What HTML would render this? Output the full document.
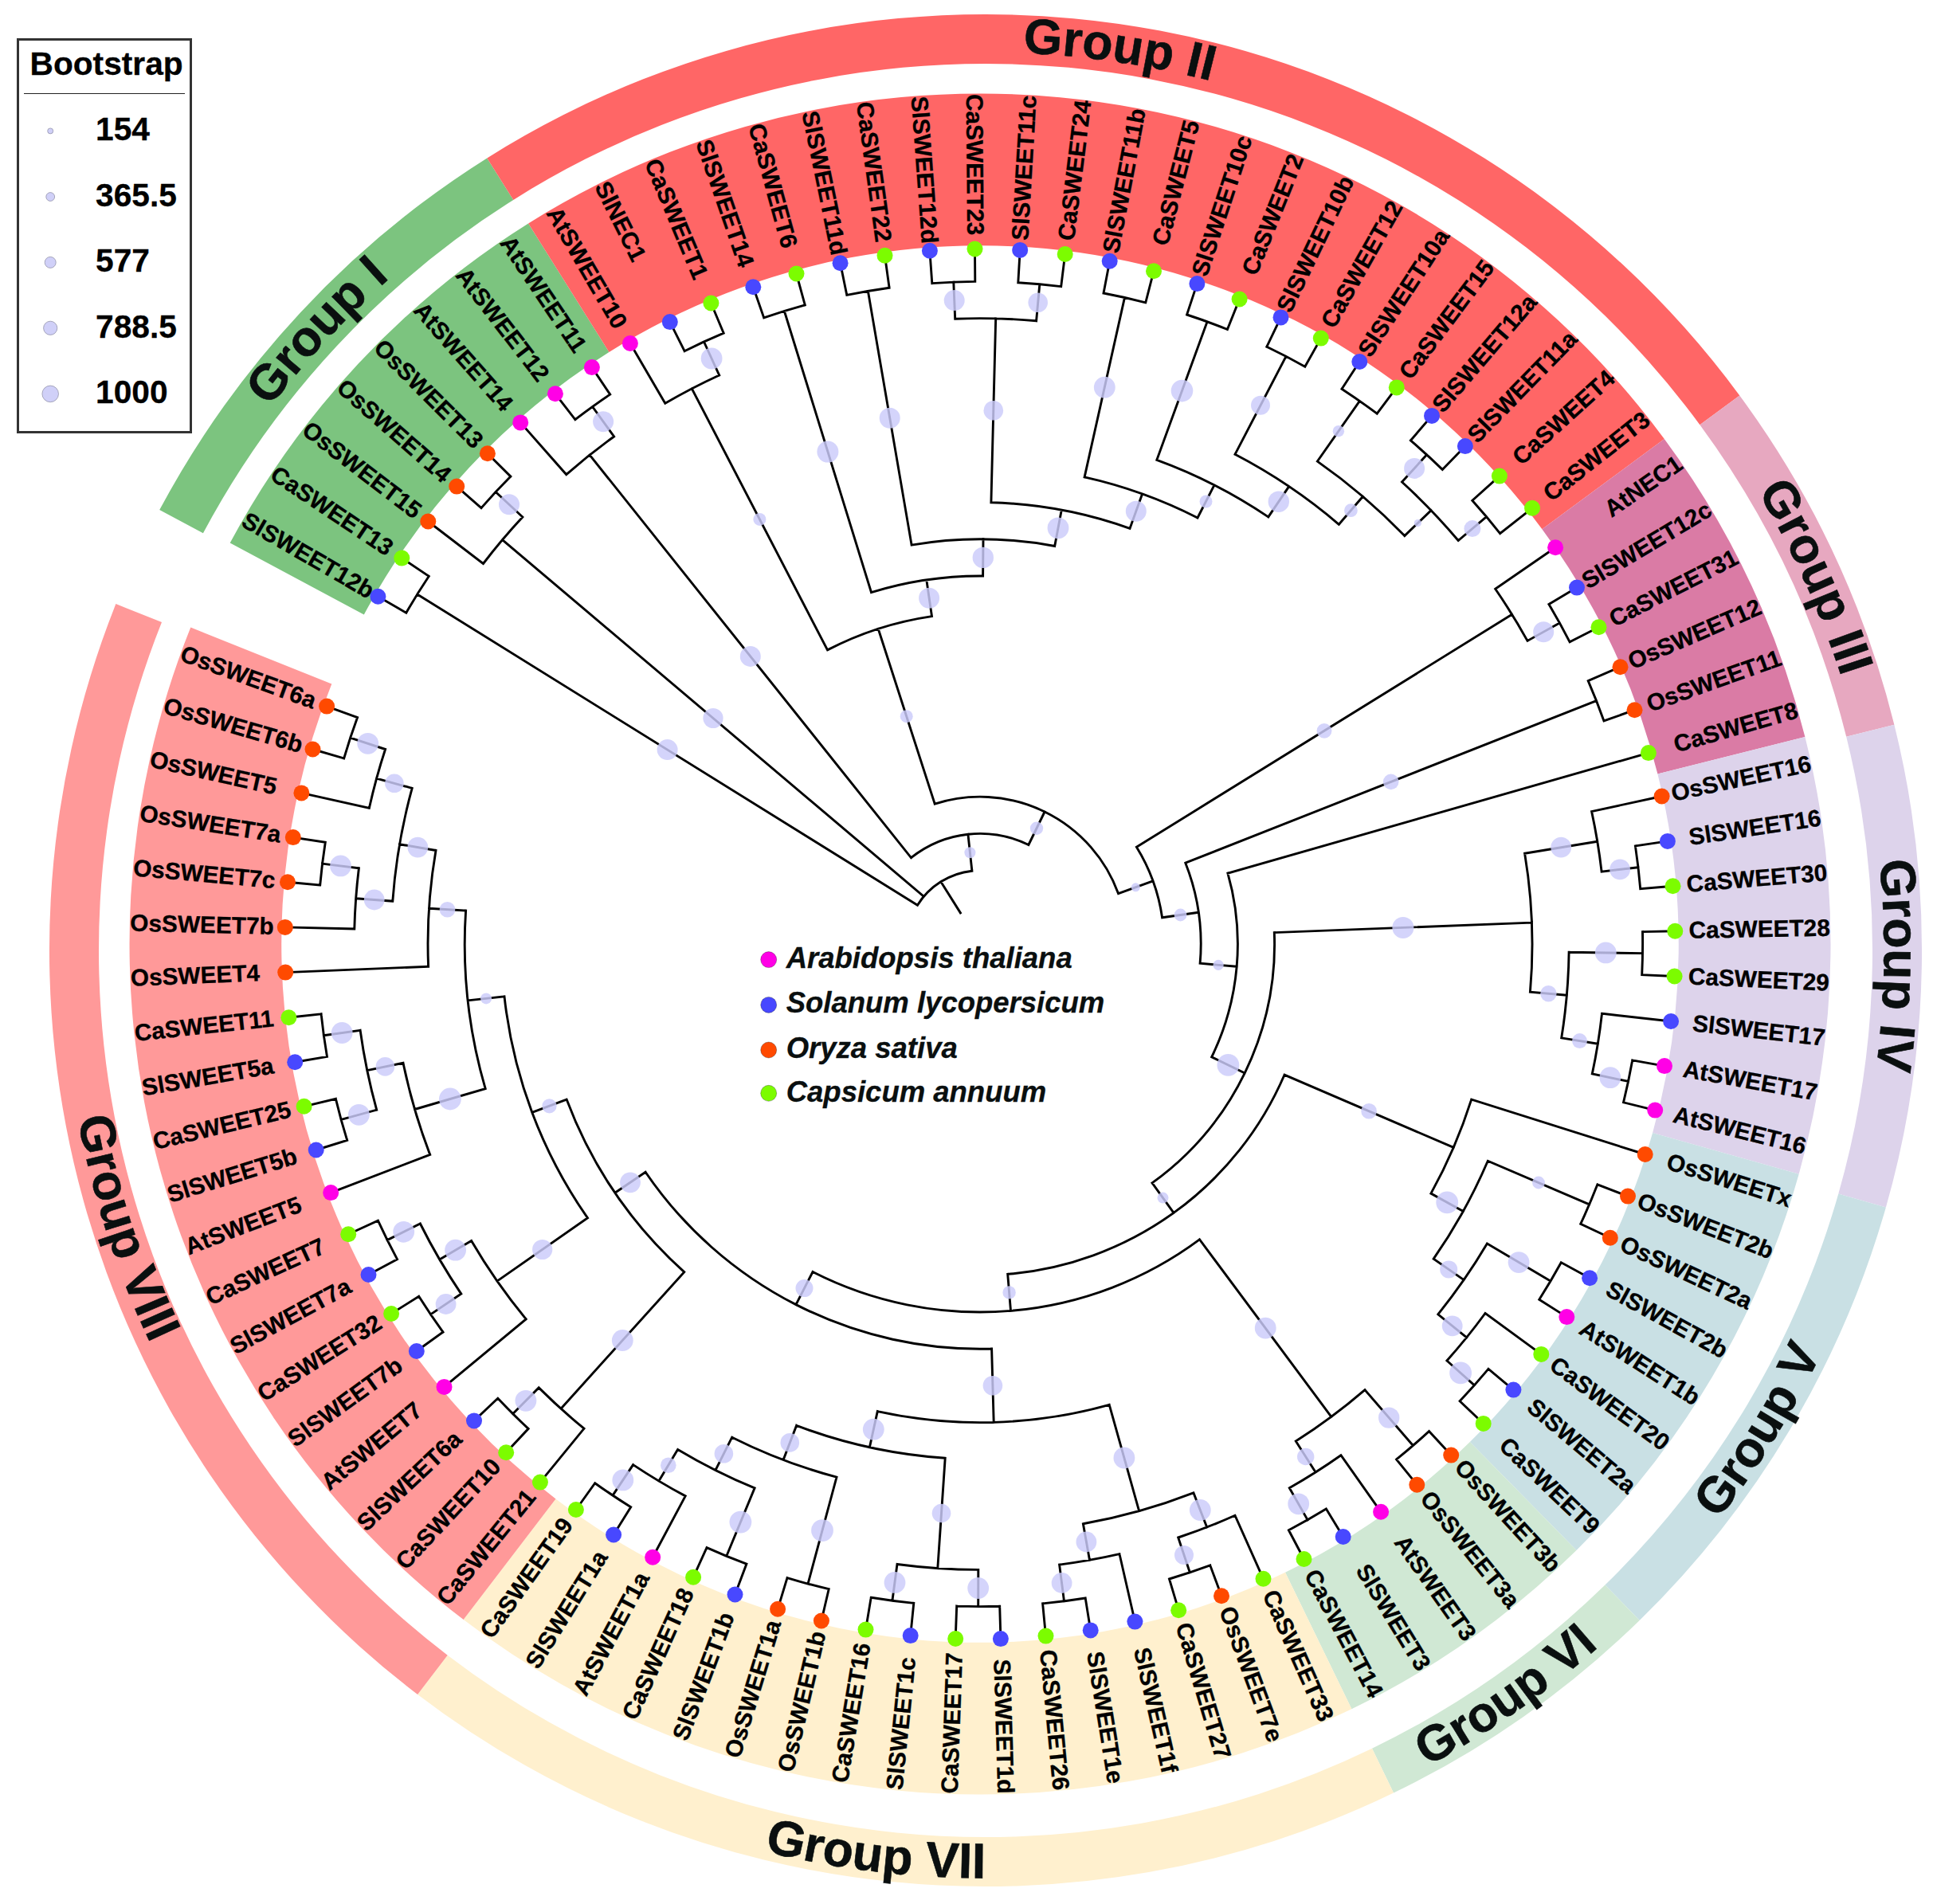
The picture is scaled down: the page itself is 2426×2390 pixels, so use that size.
<!DOCTYPE html>
<html lang="en"><head><meta charset="utf-8"><title>SWEET phylogenetic tree</title>
<style>html,body{margin:0;padding:0;background:#fff}svg{display:block}text{font-family:"Liberation Sans",sans-serif;font-weight:bold}.lf{font-size:29.8px;fill:#000;stroke:#000;stroke-width:.3px}.gl{font-size:62.4px;fill:#0a0f0f;text-anchor:middle;stroke:#0a0f0f;stroke-width:.6px}.sp{font-size:36.5px;font-style:italic;fill:#0a0f0f;stroke:#0a0f0f;stroke-width:.3px}.lg{font-size:40.7px;fill:#000;stroke:#000;stroke-width:.3px}</style></head><body>
<svg width="2426" height="2390" viewBox="0 0 2426 2390">
<rect width="2426" height="2390" fill="#fff"/>
<g id="bands">
<path d="M288.7 681.6A1067.5 1067.5 0 0 1 663.1 280.4L764.4 442A876.8 876.8 0 0 0 456.8 771.5Z" fill="#7cc47f"/>
<path d="M200.2 640.1A1175 1175 0 0 1 611.3 198.4L644.3 250.9A1113 1113 0 0 0 254.9 669.3Z" fill="#7cc47f"/>
<path d="M663.1 280.4A1067.5 1067.5 0 0 1 2088.8 551L1935.4 664.2A876.8 876.8 0 0 0 764.4 442Z" fill="#ff6666"/>
<path d="M611.3 198.4A1175 1175 0 0 1 2183.3 496.5L2133.4 533.2A1113 1113 0 0 0 644.3 250.9Z" fill="#ff6666"/>
<path d="M2088.8 551A1067.5 1067.5 0 0 1 2265.4 925L2080.4 971.5A876.8 876.8 0 0 0 1935.4 664.2Z" fill="#da7ba5"/>
<path d="M2183.3 496.5A1175 1175 0 0 1 2377.4 909.8L2317.2 924.8A1113 1113 0 0 0 2133.4 533.2Z" fill="#e7a8c0"/>
<path d="M2265.4 925A1067.5 1067.5 0 0 1 2257.7 1473.7L2074.1 1422.1A876.8 876.8 0 0 0 2080.4 971.5Z" fill="#ddd3eb"/>
<path d="M2377.4 909.8A1175 1175 0 0 1 2366.9 1515.5L2307.3 1498.5A1113 1113 0 0 0 2317.2 924.8Z" fill="#ddd3eb"/>
<path d="M2257.7 1473.7A1067.5 1067.5 0 0 1 1978.5 1946.1L1844.8 1810.1A876.8 876.8 0 0 0 2074.1 1422.1Z" fill="#c9e0e4"/>
<path d="M2366.9 1515.5A1175 1175 0 0 1 2057.7 2033.9L2014.4 1989.5A1113 1113 0 0 0 2307.3 1498.5Z" fill="#c9e0e4"/>
<path d="M1978.5 1946.1A1067.5 1067.5 0 0 1 1696.4 2145.2L1613 1973.7A876.8 876.8 0 0 0 1844.8 1810.1Z" fill="#d0e8d4"/>
<path d="M2057.7 2033.9A1175 1175 0 0 1 1749 2250.6L1722 2194.8A1113 1113 0 0 0 2014.4 1989.5Z" fill="#d0e8d4"/>
<path d="M1696.4 2145.2A1067.5 1067.5 0 0 1 581.7 2033.1L697.5 1881.6A876.8 876.8 0 0 0 1613 1973.7Z" fill="#fff0ce"/>
<path d="M1749 2250.6A1175 1175 0 0 1 524.1 2127L561.7 2077.7A1113 1113 0 0 0 1722 2194.8Z" fill="#fff0ce"/>
<path d="M581.7 2033.1A1067.5 1067.5 0 0 1 239.3 787.5L416.3 858.5A876.8 876.8 0 0 0 697.5 1881.6Z" fill="#ff9999"/>
<path d="M524.1 2127A1175 1175 0 0 1 145.4 758.1L203 781.1A1113 1113 0 0 0 561.7 2077.7Z" fill="#ff9999"/>
</g>
<path id="tree" d="M1151.5 1136.2A92.4 92.4 0 0 1 1219.9 1093.2M1151.5 1136.2L523.7 746M509.8 769.2A831.6 831.6 0 0 1 538.3 723.3M509.8 769.2L474.4 748.7M538.3 723.3L504.3 700.6M1159.5 1125.3L630.5 677.6M606.5 707.5A785.4 785.4 0 0 1 655.9 649M606.5 707.5L537.3 654.5M655.9 649L622.1 617.5M604 637.6A831.6 831.6 0 0 1 640.9 598.1M604 637.6L573.2 610.6M640.9 598.1L611.9 569.2M1219.9 1093.2L1214.9 1047.2M1143.5 1076.7A138.6 138.6 0 0 1 1290.9 1060.5M1143.5 1076.7L740.1 571.1M710.8 595.7A785.4 785.4 0 0 1 770.6 548M710.8 595.7L653.2 530.4M770.6 548L743.6 510.5M721.9 526.7A831.6 831.6 0 0 1 765.7 495.1M721.9 526.7L696.9 494.3M765.7 495.1L742.9 461.1M1290.9 1060.5L1311.1 1019M1173.2 1009.1A184.8 184.8 0 0 1 1403.6 1121.7M1173.2 1009.1L1102.2 789.3M1038.5 815.9A415.8 415.8 0 0 1 1169.5 773.6M1038.5 815.9L868.3 487.8M834.8 506.3A785.4 785.4 0 0 1 902.7 471M834.8 506.3L790.9 431M902.7 471L883.5 429M859.1 440.7A831.6 831.6 0 0 1 908.2 418.2M859.1 440.7L840.8 404.1M908.2 418.2L892.4 380.5M1169.5 773.6L1162.8 727.9M1093.5 743.6A462 462 0 0 1 1233.6 723M1093.5 743.6L984.4 390.5M958.7 398.9A831.6 831.6 0 0 1 1010.3 382.9M958.7 398.9L945.3 360.2M1010.3 382.9L999.5 343.5M1233.6 723L1234 676.8M1144.1 684.1A508.2 508.2 0 0 1 1323.7 685.5M1144.1 684.1L1089.4 365.4M1062.8 370.4A831.6 831.6 0 0 1 1116.1 361.2M1062.8 370.4L1054.6 330.3M1116.1 361.2L1110.5 320.7M1323.7 685.5L1332.3 640.1M1243.9 630.8A554.4 554.4 0 0 1 1418 663.4M1243.9 630.8L1249.7 399.8M1198.7 400.2A785.4 785.4 0 0 1 1300.6 402.8M1198.7 400.2L1196.8 354.1M1169.8 355.6A831.6 831.6 0 0 1 1223.8 353.4M1169.8 355.6L1166.9 314.8M1223.8 353.4L1223.5 312.5M1300.6 402.8L1304.8 356.8M1277.8 354.8A831.6 831.6 0 0 1 1331.7 359.6M1277.8 354.8L1280.2 313.9M1331.7 359.6L1336.7 319M1418 663.4L1433.6 620M1361.1 598.9A600.6 600.6 0 0 1 1503 650M1361.1 598.9L1411.5 373.4M1385 368A831.6 831.6 0 0 1 1437.8 379.8M1385 368L1392.7 327.8M1437.8 379.8L1448 340.2M1503 650L1524 608.9M1451.8 577.4A646.8 646.8 0 0 1 1591.8 648.9M1451.8 577.4L1515.1 403.8M1489.6 395A831.6 831.6 0 0 1 1540.4 413.5M1489.6 395L1502.4 356.1M1540.4 413.5L1555.6 375.5M1591.8 648.9L1617.7 610.6M1550 570.3A693 693 0 0 1 1680.4 658.3M1550 570.3L1614 447.4M1589.8 435.3A831.6 831.6 0 0 1 1637.8 460.2M1589.8 435.3L1607.5 398.4M1637.8 460.2L1657.8 424.6M1680.4 658.3L1710.4 623.2M1653.4 579.1A739.2 739.2 0 0 1 1762.8 672.6M1653.4 579.1L1706.4 503.4M1684 488.2A831.6 831.6 0 0 1 1728.2 519.2M1684 488.2L1706.3 454M1728.2 519.2L1752.8 486.4M1762.8 672.6L1796.1 640.6M1759.5 605A785.4 785.4 0 0 1 1830.2 678.5M1759.5 605L1790.7 570.8M1770.4 552.9A831.6 831.6 0 0 1 1810.3 589.4M1770.4 552.9L1797 521.9M1810.3 589.4L1838.9 560.1M1830.2 678.5L1865.6 648.7M1847.8 628.3A831.6 831.6 0 0 1 1882.6 669.6M1847.8 628.3L1881.9 597.6M1882.6 669.6L1923 637.8M1403.6 1121.7L1447 1105.9M1426.4 1063.3A231 231 0 0 1 1458.6 1151.8M1426.4 1063.3L1897.6 771.3M1876.7 739.3A785.4 785.4 0 0 1 1917 804.4M1876.7 739.3L1952.1 687.3M1917 804.4L1957.4 782M1943.9 758.5A831.6 831.6 0 0 1 1970.1 805.8M1943.9 758.5L1979 737.6M1970.1 805.8L2006.5 787.2M1458.6 1151.8L1504.3 1145.2M1487.8 1083.2A277.2 277.2 0 0 1 1506.1 1209.3M1487.8 1083.2L2003.5 879.6M1993.2 854.7A831.6 831.6 0 0 1 2013 904.9M1993.2 854.7L2033.5 837.2M2013 904.9L2051.5 891.2M1506.1 1209.3L1552.2 1213.3M1540.9 1096.1A323.4 323.4 0 0 1 1520.7 1326.8M1540.9 1096.1L2068.9 945.1M1520.7 1326.8L1562.2 1347M1599.3 1170.6A369.6 369.6 0 0 1 1446 1484.9M1599.3 1170.6L1922.5 1158.1M1913.6 1071.3A693 693 0 0 1 1920.4 1245.2M1913.6 1071.3L2004.8 1056.2M1997.6 1018.6A785.4 785.4 0 0 1 2010.1 1094.1M1997.6 1018.6L2085.6 999.5M2010.1 1094.1L2056 1088.7M2052.4 1061.9A831.6 831.6 0 0 1 2058.7 1115.6M2052.4 1061.9L2092.9 1055.9M2058.7 1115.6L2099.5 1112.2M1920.4 1245.2L1966.4 1249.3M1969.1 1195.3A739.2 739.2 0 0 1 1959.7 1302.9M1969.1 1195.3L2061.5 1196.6M2061.5 1169.6A831.6 831.6 0 0 1 2060.7 1223.6M2061.5 1169.6L2102.3 1168.8M2060.7 1223.6L2101.6 1225.5M1959.7 1302.9L2005.4 1310.2M2010.5 1272.3A785.4 785.4 0 0 1 1998.3 1347.9M2010.5 1272.3L2097.1 1282M1998.3 1347.9L2043.5 1357.4M2048.7 1330.9A831.6 831.6 0 0 1 2037.5 1383.8M2048.7 1330.9L2089 1338.1M2037.5 1383.8L2077.2 1393.6M1446 1484.9L1473 1522.4M1612 1349.2A415.8 415.8 0 0 1 1264.7 1599.4M1612 1349.2L1824.3 1440.4M1846.7 1380.1A646.8 646.8 0 0 1 1795.9 1498.1M1846.7 1380.1L2064.7 1449M1795.9 1498.1L1836.4 1520.5M1867.3 1457.3A693 693 0 0 1 1799.2 1580.2M1867.3 1457.3L1994.7 1511.8M2004.9 1486.8A831.6 831.6 0 0 1 1983.7 1536.4M2004.9 1486.8L2043 1501.6M1983.7 1536.4L2020.8 1553.7M1799.2 1580.2L1837.2 1606.6M1866.4 1561.1A739.2 739.2 0 0 1 1804.8 1649.8M1866.4 1561.1L1945.9 1608.1M1959.3 1584.7A831.6 831.6 0 0 1 1931.8 1631.2M1959.3 1584.7L1995.1 1604.3M1931.8 1631.2L1966.3 1653.1M1804.8 1649.8L1840.7 1678.9M1864 1648.5A785.4 785.4 0 0 1 1815.9 1708M1864 1648.5L1934.3 1699.9M1815.9 1708L1850.4 1738.8M1868 1718.4A831.6 831.6 0 0 1 1832.1 1758.7M1868 1718.4L1899.4 1744.6M1832.1 1758.7L1861.7 1786.9M1264.7 1599.4L1268.5 1645.4M1505.5 1555.9A462 462 0 0 1 1020 1596.5M1505.5 1555.9L1670.8 1778.4M1713 1744.6A739.2 739.2 0 0 1 1626.3 1809M1713 1744.6L1773.4 1814.5M1793.5 1796.6A831.6 831.6 0 0 1 1752.6 1831.9M1793.5 1796.6L1821.2 1826.6M1752.6 1831.9L1778.3 1863.7M1626.3 1809L1651.1 1848M1682.9 1826.7A785.4 785.4 0 0 1 1618.3 1867.7M1682.9 1826.7L1733.1 1897.8M1618.3 1867.7L1641.1 1907.9M1664.4 1894.1A831.6 831.6 0 0 1 1617.4 1920.8M1664.4 1894.1L1685.7 1929M1617.4 1920.8L1636.5 1957M1020 1596.5L999 1637.7M1244.6 1693A508.2 508.2 0 0 1 810.1 1471.2M1244.6 1693L1247.2 1785.4M1392.2 1763.3A600.6 600.6 0 0 1 1101.3 1771.6M1392.2 1763.3L1429.6 1896.7M1497.9 1873.9A739.2 739.2 0 0 1 1359.4 1912.8M1497.9 1873.9L1514.7 1917M1550 1902.3A785.4 785.4 0 0 1 1478.7 1930M1550 1902.3L1585.5 1981.8M1478.7 1930L1493.3 1973.8M1518.8 1964.9A831.6 831.6 0 0 1 1467.5 1982M1518.8 1964.9L1533 2003.2M1467.5 1982L1479.2 2021.2M1359.4 1912.8L1367.5 1958.3M1405 1950.7A785.4 785.4 0 0 1 1329.6 1964.1M1405 1950.7L1424.4 2035.6M1329.6 1964.1L1335.5 2009.9M1362.2 2006A831.6 831.6 0 0 1 1308.6 2012.9M1362.2 2006L1368.7 2046.4M1308.6 2012.9L1312.5 2053.6M1101.3 1771.6L1091.4 1816.8M1186.2 1830.3A646.8 646.8 0 0 1 999.6 1789.4M1186.2 1830.3L1176.8 1968.6M1227.8 1970.4A785.4 785.4 0 0 1 1126 1963.5M1227.8 1970.4L1227.7 2016.6M1254.7 2016.2A831.6 831.6 0 0 1 1200.7 2016.1M1254.7 2016.2L1255.9 2057.1M1200.7 2016.1L1199.2 2057M1126 1963.5L1119.9 2009.3M1146.8 2012.4A831.6 831.6 0 0 1 1093.2 2005.3M1146.8 2012.4L1142.7 2053.1M1093.2 2005.3L1086.5 2045.6M999.6 1789.4L983.1 1832.5M1050 1854.2A693 693 0 0 1 918.7 1804.2M1050 1854.2L1014 1988.1M1040.2 1994.7A831.6 831.6 0 0 1 988 1980.6M1040.2 1994.7L1030.9 2034.5M988 1980.6L976.1 2019.8M918.7 1804.2L898 1845.4M947.1 1867.9A739.2 739.2 0 0 1 850.6 1819.4M947.1 1867.9L911.8 1953.3M936.9 1963.2A831.6 831.6 0 0 1 887 1942.6M936.9 1963.2L922.5 2001.5M887 1942.6L870.1 1979.8M850.6 1819.4L826.9 1859.1M860.2 1877.9A785.4 785.4 0 0 1 794.6 1838.6M860.2 1877.9L819.2 1954.8M794.6 1838.6L769 1877.1M791.7 1891.7A831.6 831.6 0 0 1 746.7 1861.7M791.7 1891.7L770.1 1926.5M746.7 1861.7L722.9 1895M810.1 1471.2L771.9 1497.3M858.7 1596.7A554.4 554.4 0 0 1 711.1 1380.1M858.7 1596.7L704 1768.2M733 1793.2A785.4 785.4 0 0 1 676.2 1741.9M733 1793.2L677.9 1860.6M676.2 1741.9L643.6 1774.7M663.1 1793.4A831.6 831.6 0 0 1 624.8 1755.3M663.1 1793.4L635.2 1823.3M624.8 1755.3L595 1783.4M711.1 1380.1L667.8 1396.4M737.5 1528.8A600.6 600.6 0 0 1 633 1250.9M737.5 1528.8L623.9 1608.1M660.2 1655.9A739.2 739.2 0 0 1 591.6 1557.6M660.2 1655.9L557.5 1740.9M591.6 1557.6L551.7 1580.9M578.8 1624.1A785.4 785.4 0 0 1 527.4 1536M578.8 1624.1L540.5 1649.9M556 1672.1A831.6 831.6 0 0 1 525.7 1627.3M556 1672.1L522.8 1696M525.7 1627.3L491.1 1649M527.4 1536L486 1556.6M498.5 1580.6A831.6 831.6 0 0 1 474.4 1532.2M498.5 1580.6L462.5 1600M474.4 1532.2L437.2 1549.3M633 1250.9L587.1 1255.9M609.2 1366.6A646.8 646.8 0 0 1 584.6 1143.1M609.2 1366.6L520.5 1392.5M539.7 1449.4A739.2 739.2 0 0 1 506 1334.3M539.7 1449.4L415.2 1497.1M506 1334.3L460.8 1343.6M472.7 1393.2A785.4 785.4 0 0 1 452.1 1293.3M472.7 1393.2L428.2 1405.4M435.7 1431.4A831.6 831.6 0 0 1 421.4 1379.3M435.7 1431.4L396.7 1443.5M421.4 1379.3L381.6 1388.8M452.1 1293.3L406.3 1299.7M410.5 1326.4A831.6 831.6 0 0 1 403.1 1272.8M410.5 1326.4L370.2 1333.3M403.1 1272.8L362.4 1277.2M584.6 1143.1L538.5 1140.2M537.6 1213.3A693 693 0 0 1 547 1067.5M537.6 1213.3L358.2 1220.6M547 1067.5L501.5 1059.7M492.8 1131.2A739.2 739.2 0 0 1 517.2 989.4M492.8 1131.2L446.7 1127.8M444.8 1166A785.4 785.4 0 0 1 450.4 1089.7M444.8 1166L357.8 1163.9M450.4 1089.7L404.5 1084.1M401.7 1111A831.6 831.6 0 0 1 408.3 1057.3M401.7 1111L361 1107.3M408.3 1057.3L367.8 1051.1M517.2 989.4L472.6 977.1M463.4 1014.3A785.4 785.4 0 0 1 483.6 940.5M463.4 1014.3L378.4 995.4M483.6 940.5L439.7 926.1M431.7 951.9A831.6 831.6 0 0 1 448.6 900.6M431.7 951.9L392.5 940.5M448.6 900.6L410.1 886.6M1180.8 1106.8L1205.4 1145.9" fill="none" stroke="#000" stroke-width="2.9" stroke-linejoin="miter" stroke-linecap="square"/>
<g id="boot" fill="#cbcbfa" fill-opacity="0.83">
<circle cx="837.6" cy="941.1" r="13"/>
<circle cx="895" cy="901.5" r="12.6"/>
<circle cx="639" cy="633.3" r="13"/>
<circle cx="1217.4" cy="1070.2" r="7"/>
<circle cx="941.8" cy="823.9" r="13"/>
<circle cx="757.1" cy="529.2" r="13"/>
<circle cx="1301" cy="1039.7" r="8.2"/>
<circle cx="1137.7" cy="899.2" r="8"/>
<circle cx="953.4" cy="651.9" r="8"/>
<circle cx="893.1" cy="450" r="13.4"/>
<circle cx="1166.1" cy="750.8" r="13"/>
<circle cx="1038.9" cy="567.1" r="13.5"/>
<circle cx="1233.8" cy="699.9" r="13.2"/>
<circle cx="1116.7" cy="524.7" r="13"/>
<circle cx="1328" cy="662.8" r="13.4"/>
<circle cx="1246.8" cy="515.3" r="12.3"/>
<circle cx="1197.7" cy="377.1" r="13"/>
<circle cx="1302.7" cy="379.8" r="12.3"/>
<circle cx="1425.8" cy="641.7" r="13"/>
<circle cx="1386.3" cy="486.2" r="13.4"/>
<circle cx="1513.5" cy="629.5" r="8"/>
<circle cx="1483.5" cy="490.6" r="13.8"/>
<circle cx="1604.8" cy="629.7" r="13.2"/>
<circle cx="1582" cy="508.8" r="12"/>
<circle cx="1695.4" cy="640.7" r="8.4"/>
<circle cx="1679.9" cy="541.2" r="7.2"/>
<circle cx="1779.4" cy="656.6" r="4.6"/>
<circle cx="1775.1" cy="587.9" r="13"/>
<circle cx="1847.9" cy="663.6" r="10.5"/>
<circle cx="1425.3" cy="1113.8" r="5.5"/>
<circle cx="1662" cy="917.3" r="9.4"/>
<circle cx="1937.2" cy="793.2" r="13"/>
<circle cx="1481.5" cy="1148.5" r="7.9"/>
<circle cx="1745.7" cy="981.4" r="9.8"/>
<circle cx="1529.1" cy="1211.3" r="6.6"/>
<circle cx="1541.4" cy="1336.9" r="13.9"/>
<circle cx="1760.9" cy="1164.4" r="13.5"/>
<circle cx="1959.2" cy="1063.7" r="12.9"/>
<circle cx="2033.1" cy="1091.4" r="12.9"/>
<circle cx="1943.4" cy="1247.2" r="10.2"/>
<circle cx="2015.3" cy="1195.9" r="13.4"/>
<circle cx="1982.5" cy="1306.6" r="9.5"/>
<circle cx="2020.9" cy="1352.7" r="13.4"/>
<circle cx="1459.5" cy="1503.6" r="7"/>
<circle cx="1718.1" cy="1394.8" r="9.8"/>
<circle cx="1816.2" cy="1509.3" r="13.9"/>
<circle cx="1931" cy="1484.5" r="7.9"/>
<circle cx="1818.2" cy="1593.4" r="11"/>
<circle cx="1906.1" cy="1584.6" r="13.4"/>
<circle cx="1822.7" cy="1664.3" r="12.9"/>
<circle cx="1833.1" cy="1723.4" r="13.9"/>
<circle cx="1266.6" cy="1622.4" r="8.2"/>
<circle cx="1588.2" cy="1667.1" r="13.4"/>
<circle cx="1743.2" cy="1779.6" r="13.2"/>
<circle cx="1638.7" cy="1828.5" r="10.7"/>
<circle cx="1629.7" cy="1887.8" r="13.4"/>
<circle cx="1009.5" cy="1617.1" r="11"/>
<circle cx="1245.9" cy="1739.2" r="12.3"/>
<circle cx="1410.9" cy="1830" r="13.4"/>
<circle cx="1506.3" cy="1895.5" r="13.4"/>
<circle cx="1486" cy="1951.9" r="12"/>
<circle cx="1363.4" cy="1935.5" r="12.9"/>
<circle cx="1332.6" cy="1987" r="12.9"/>
<circle cx="1096.3" cy="1794.2" r="13.4"/>
<circle cx="1181.5" cy="1899.5" r="11.8"/>
<circle cx="1227.7" cy="1993.5" r="13.4"/>
<circle cx="1123" cy="1986.4" r="13.4"/>
<circle cx="991.3" cy="1810.9" r="11.8"/>
<circle cx="1032" cy="1921.1" r="13.9"/>
<circle cx="908.4" cy="1824.8" r="11.8"/>
<circle cx="929.4" cy="1910.6" r="13.9"/>
<circle cx="838.8" cy="1839.3" r="9.8"/>
<circle cx="781.8" cy="1857.9" r="13.4"/>
<circle cx="791" cy="1484.3" r="12.9"/>
<circle cx="781.3" cy="1682.5" r="13.4"/>
<circle cx="659.9" cy="1758.3" r="13.4"/>
<circle cx="689.5" cy="1388.3" r="9.1"/>
<circle cx="680.7" cy="1568.5" r="12.6"/>
<circle cx="571.6" cy="1569.2" r="13.4"/>
<circle cx="559.6" cy="1637" r="12.9"/>
<circle cx="506.7" cy="1546.3" r="13.4"/>
<circle cx="610.1" cy="1253.4" r="7"/>
<circle cx="564.9" cy="1379.5" r="13.9"/>
<circle cx="483.4" cy="1338.9" r="11.8"/>
<circle cx="450.4" cy="1399.3" r="13.4"/>
<circle cx="429.2" cy="1296.5" r="13.4"/>
<circle cx="561.5" cy="1141.7" r="9.8"/>
<circle cx="524.3" cy="1063.6" r="12.9"/>
<circle cx="469.7" cy="1129.5" r="12.9"/>
<circle cx="427.5" cy="1086.9" r="13.4"/>
<circle cx="494.9" cy="983.3" r="11.8"/>
<circle cx="461.7" cy="933.3" r="13.4"/>
</g>
<g id="dots">
<circle cx="474.4" cy="748.7" r="10" fill="#4848ff"/>
<circle cx="504.3" cy="700.6" r="10" fill="#7cfc00"/>
<circle cx="537.3" cy="654.5" r="10" fill="#ff4a00"/>
<circle cx="573.2" cy="610.6" r="10" fill="#ff4a00"/>
<circle cx="611.9" cy="569.2" r="10" fill="#ff4a00"/>
<circle cx="653.2" cy="530.4" r="10" fill="#ff00e6"/>
<circle cx="696.9" cy="494.3" r="10" fill="#ff00e6"/>
<circle cx="742.9" cy="461.1" r="10" fill="#ff00e6"/>
<circle cx="790.9" cy="431" r="10" fill="#ff00e6"/>
<circle cx="840.8" cy="404.1" r="10" fill="#4848ff"/>
<circle cx="892.4" cy="380.5" r="10" fill="#7cfc00"/>
<circle cx="945.3" cy="360.2" r="10" fill="#4848ff"/>
<circle cx="999.5" cy="343.5" r="10" fill="#7cfc00"/>
<circle cx="1054.6" cy="330.3" r="10" fill="#4848ff"/>
<circle cx="1110.5" cy="320.7" r="10" fill="#7cfc00"/>
<circle cx="1166.9" cy="314.8" r="10" fill="#4848ff"/>
<circle cx="1223.5" cy="312.5" r="10" fill="#7cfc00"/>
<circle cx="1280.2" cy="313.9" r="10" fill="#4848ff"/>
<circle cx="1336.7" cy="319" r="10" fill="#7cfc00"/>
<circle cx="1392.7" cy="327.8" r="10" fill="#4848ff"/>
<circle cx="1448" cy="340.2" r="10" fill="#7cfc00"/>
<circle cx="1502.4" cy="356.1" r="10" fill="#4848ff"/>
<circle cx="1555.6" cy="375.5" r="10" fill="#7cfc00"/>
<circle cx="1607.5" cy="398.4" r="10" fill="#4848ff"/>
<circle cx="1657.8" cy="424.6" r="10" fill="#7cfc00"/>
<circle cx="1706.3" cy="454" r="10" fill="#4848ff"/>
<circle cx="1752.8" cy="486.4" r="10" fill="#7cfc00"/>
<circle cx="1797" cy="521.9" r="10" fill="#4848ff"/>
<circle cx="1838.9" cy="560.1" r="10" fill="#4848ff"/>
<circle cx="1881.9" cy="597.6" r="10" fill="#7cfc00"/>
<circle cx="1923" cy="637.8" r="10" fill="#7cfc00"/>
<circle cx="1952.1" cy="687.3" r="10" fill="#ff00e6"/>
<circle cx="1979" cy="737.6" r="10" fill="#4848ff"/>
<circle cx="2006.5" cy="787.2" r="10" fill="#7cfc00"/>
<circle cx="2033.5" cy="837.2" r="10" fill="#ff4a00"/>
<circle cx="2051.5" cy="891.2" r="10" fill="#ff4a00"/>
<circle cx="2068.9" cy="945.1" r="10" fill="#7cfc00"/>
<circle cx="2085.6" cy="999.5" r="10" fill="#ff4a00"/>
<circle cx="2092.9" cy="1055.9" r="10" fill="#4848ff"/>
<circle cx="2099.5" cy="1112.2" r="10" fill="#7cfc00"/>
<circle cx="2102.3" cy="1168.8" r="10" fill="#7cfc00"/>
<circle cx="2101.6" cy="1225.5" r="10" fill="#7cfc00"/>
<circle cx="2097.1" cy="1282" r="10" fill="#4848ff"/>
<circle cx="2089" cy="1338.1" r="10" fill="#ff00e6"/>
<circle cx="2077.2" cy="1393.6" r="10" fill="#ff00e6"/>
<circle cx="2064.7" cy="1449" r="10" fill="#ff4a00"/>
<circle cx="2043" cy="1501.6" r="10" fill="#ff4a00"/>
<circle cx="2020.8" cy="1553.7" r="10" fill="#ff4a00"/>
<circle cx="1995.1" cy="1604.3" r="10" fill="#4848ff"/>
<circle cx="1966.3" cy="1653.1" r="10" fill="#ff00e6"/>
<circle cx="1934.3" cy="1699.9" r="10" fill="#7cfc00"/>
<circle cx="1899.4" cy="1744.6" r="10" fill="#4848ff"/>
<circle cx="1861.7" cy="1786.9" r="10" fill="#7cfc00"/>
<circle cx="1821.2" cy="1826.6" r="10" fill="#ff4a00"/>
<circle cx="1778.3" cy="1863.7" r="10" fill="#ff4a00"/>
<circle cx="1733.1" cy="1897.8" r="10" fill="#ff00e6"/>
<circle cx="1685.7" cy="1929" r="10" fill="#4848ff"/>
<circle cx="1636.5" cy="1957" r="10" fill="#7cfc00"/>
<circle cx="1585.5" cy="1981.8" r="10" fill="#7cfc00"/>
<circle cx="1533" cy="2003.2" r="10" fill="#ff4a00"/>
<circle cx="1479.2" cy="2021.2" r="10" fill="#7cfc00"/>
<circle cx="1424.4" cy="2035.6" r="10" fill="#4848ff"/>
<circle cx="1368.7" cy="2046.4" r="10" fill="#4848ff"/>
<circle cx="1312.5" cy="2053.6" r="10" fill="#7cfc00"/>
<circle cx="1255.9" cy="2057.1" r="10" fill="#4848ff"/>
<circle cx="1199.2" cy="2057" r="10" fill="#7cfc00"/>
<circle cx="1142.7" cy="2053.1" r="10" fill="#4848ff"/>
<circle cx="1086.5" cy="2045.6" r="10" fill="#7cfc00"/>
<circle cx="1030.9" cy="2034.5" r="10" fill="#ff4a00"/>
<circle cx="976.1" cy="2019.8" r="10" fill="#ff4a00"/>
<circle cx="922.5" cy="2001.5" r="10" fill="#4848ff"/>
<circle cx="870.1" cy="1979.8" r="10" fill="#7cfc00"/>
<circle cx="819.2" cy="1954.8" r="10" fill="#ff00e6"/>
<circle cx="770.1" cy="1926.5" r="10" fill="#4848ff"/>
<circle cx="722.9" cy="1895" r="10" fill="#7cfc00"/>
<circle cx="677.9" cy="1860.6" r="10" fill="#7cfc00"/>
<circle cx="635.2" cy="1823.3" r="10" fill="#7cfc00"/>
<circle cx="595" cy="1783.4" r="10" fill="#4848ff"/>
<circle cx="557.5" cy="1740.9" r="10" fill="#ff00e6"/>
<circle cx="522.8" cy="1696" r="10" fill="#4848ff"/>
<circle cx="491.1" cy="1649" r="10" fill="#7cfc00"/>
<circle cx="462.5" cy="1600" r="10" fill="#4848ff"/>
<circle cx="437.2" cy="1549.3" r="10" fill="#7cfc00"/>
<circle cx="415.2" cy="1497.1" r="10" fill="#ff00e6"/>
<circle cx="396.7" cy="1443.5" r="10" fill="#4848ff"/>
<circle cx="381.6" cy="1388.8" r="10" fill="#7cfc00"/>
<circle cx="370.2" cy="1333.3" r="10" fill="#4848ff"/>
<circle cx="362.4" cy="1277.2" r="10" fill="#7cfc00"/>
<circle cx="358.2" cy="1220.6" r="10" fill="#ff4a00"/>
<circle cx="357.8" cy="1163.9" r="10" fill="#ff4a00"/>
<circle cx="361" cy="1107.3" r="10" fill="#ff4a00"/>
<circle cx="367.8" cy="1051.1" r="10" fill="#ff4a00"/>
<circle cx="378.4" cy="995.4" r="10" fill="#ff4a00"/>
<circle cx="392.5" cy="940.5" r="10" fill="#ff4a00"/>
<circle cx="410.1" cy="886.6" r="10" fill="#ff4a00"/>
</g>
<g id="labels" class="lf" transform="translate(1230 1185)">
<text transform="rotate(30.00)" x="-1067" y="9.3">SlSWEET12b</text>
<text transform="rotate(33.72)" x="-1067" y="9.3">CaSWEET13</text>
<text transform="rotate(37.45)" x="-1067" y="9.3">OsSWEET15</text>
<text transform="rotate(41.17)" x="-1067" y="9.3">OsSWEET14</text>
<text transform="rotate(44.89)" x="-1067" y="9.3">OsSWEET13</text>
<text transform="rotate(48.62)" x="-1067" y="9.3">AtSWEET14</text>
<text transform="rotate(52.34)" x="-1067" y="9.3">AtSWEET12</text>
<text transform="rotate(56.06)" x="-1067" y="9.3">AtSWEET11</text>
<text transform="rotate(59.79)" x="-1067" y="9.3">AtSWEET10</text>
<text transform="rotate(63.51)" x="-1067" y="9.3">SlNEC1</text>
<text transform="rotate(67.23)" x="-1067" y="9.3">CaSWEET1</text>
<text transform="rotate(70.96)" x="-1067" y="9.3">SlSWEET14</text>
<text transform="rotate(74.68)" x="-1067" y="9.3">CaSWEET6</text>
<text transform="rotate(78.40)" x="-1067" y="9.3">SlSWEET11d</text>
<text transform="rotate(82.13)" x="-1067" y="9.3">CaSWEET22</text>
<text transform="rotate(85.85)" x="-1067" y="9.3">SlSWEET12d</text>
<text transform="rotate(89.57)" x="-1067" y="9.3">CaSWEET23</text>
<text transform="rotate(-86.70)" x="1067" y="9.3" text-anchor="end">SlSWEET11c</text>
<text transform="rotate(-82.98)" x="1067" y="9.3" text-anchor="end">CaSWEET24</text>
<text transform="rotate(-79.26)" x="1067" y="9.3" text-anchor="end">SlSWEET11b</text>
<text transform="rotate(-75.53)" x="1067" y="9.3" text-anchor="end">CaSWEET5</text>
<text transform="rotate(-71.81)" x="1067" y="9.3" text-anchor="end">SlSWEET10c</text>
<text transform="rotate(-68.09)" x="1067" y="9.3" text-anchor="end">CaSWEET2</text>
<text transform="rotate(-64.36)" x="1067" y="9.3" text-anchor="end">SlSWEET10b</text>
<text transform="rotate(-60.64)" x="1067" y="9.3" text-anchor="end">CaSWEET12</text>
<text transform="rotate(-56.91)" x="1067" y="9.3" text-anchor="end">SlSWEET10a</text>
<text transform="rotate(-53.19)" x="1067" y="9.3" text-anchor="end">CaSWEET15</text>
<text transform="rotate(-49.47)" x="1067" y="9.3" text-anchor="end">SlSWEET12a</text>
<text transform="rotate(-45.74)" x="1067" y="9.3" text-anchor="end">SlSWEET11a</text>
<text transform="rotate(-42.02)" x="1067" y="9.3" text-anchor="end">CaSWEET4</text>
<text transform="rotate(-38.30)" x="1067" y="9.3" text-anchor="end">CaSWEET3</text>
<text transform="rotate(-34.57)" x="1067" y="9.3" text-anchor="end">AtNEC1</text>
<text transform="rotate(-30.85)" x="1067" y="9.3" text-anchor="end">SlSWEET12c</text>
<text transform="rotate(-27.13)" x="1067" y="9.3" text-anchor="end">CaSWEET31</text>
<text transform="rotate(-23.40)" x="1067" y="9.3" text-anchor="end">OsSWEET12</text>
<text transform="rotate(-19.68)" x="1067" y="9.3" text-anchor="end">OsSWEET11</text>
<text transform="rotate(-15.96)" x="1067" y="9.3" text-anchor="end">CaSWEET8</text>
<text transform="rotate(-12.23)" x="1067" y="9.3" text-anchor="end">OsSWEET16</text>
<text transform="rotate(-8.51)" x="1067" y="9.3" text-anchor="end">SlSWEET16</text>
<text transform="rotate(-4.79)" x="1067" y="9.3" text-anchor="end">CaSWEET30</text>
<text transform="rotate(-1.06)" x="1067" y="9.3" text-anchor="end">CaSWEET28</text>
<text transform="rotate(2.66)" x="1067" y="9.3" text-anchor="end">CaSWEET29</text>
<text transform="rotate(6.38)" x="1067" y="9.3" text-anchor="end">SlSWEET17</text>
<text transform="rotate(10.11)" x="1067" y="9.3" text-anchor="end">AtSWEET17</text>
<text transform="rotate(13.83)" x="1067" y="9.3" text-anchor="end">AtSWEET16</text>
<text transform="rotate(17.55)" x="1067" y="9.3" text-anchor="end">OsSWEETx</text>
<text transform="rotate(21.28)" x="1067" y="9.3" text-anchor="end">OsSWEET2b</text>
<text transform="rotate(25.00)" x="1067" y="9.3" text-anchor="end">OsSWEET2a</text>
<text transform="rotate(28.72)" x="1067" y="9.3" text-anchor="end">SlSWEET2b</text>
<text transform="rotate(32.45)" x="1067" y="9.3" text-anchor="end">AtSWEET1b</text>
<text transform="rotate(36.17)" x="1067" y="9.3" text-anchor="end">CaSWEET20</text>
<text transform="rotate(39.89)" x="1067" y="9.3" text-anchor="end">SlSWEET2a</text>
<text transform="rotate(43.62)" x="1067" y="9.3" text-anchor="end">CaSWEET9</text>
<text transform="rotate(47.34)" x="1067" y="9.3" text-anchor="end">OsSWEET3b</text>
<text transform="rotate(51.06)" x="1067" y="9.3" text-anchor="end">OsSWEET3a</text>
<text transform="rotate(54.79)" x="1067" y="9.3" text-anchor="end">AtSWEET3</text>
<text transform="rotate(58.51)" x="1067" y="9.3" text-anchor="end">SlSWEET3</text>
<text transform="rotate(62.23)" x="1067" y="9.3" text-anchor="end">CaSWEET14</text>
<text transform="rotate(65.96)" x="1067" y="9.3" text-anchor="end">CaSWEET33</text>
<text transform="rotate(69.68)" x="1067" y="9.3" text-anchor="end">OsSWEET7e</text>
<text transform="rotate(73.40)" x="1067" y="9.3" text-anchor="end">CaSWEET27</text>
<text transform="rotate(77.13)" x="1067" y="9.3" text-anchor="end">SlSWEET1f</text>
<text transform="rotate(80.85)" x="1067" y="9.3" text-anchor="end">SlSWEET1e</text>
<text transform="rotate(84.57)" x="1067" y="9.3" text-anchor="end">CaSWEET26</text>
<text transform="rotate(88.30)" x="1067" y="9.3" text-anchor="end">SlSWEET1d</text>
<text transform="rotate(-87.98)" x="-1067" y="9.3">CaSWEET17</text>
<text transform="rotate(-84.26)" x="-1067" y="9.3">SlSWEET1c</text>
<text transform="rotate(-80.53)" x="-1067" y="9.3">CaSWEET16</text>
<text transform="rotate(-76.81)" x="-1067" y="9.3">OsSWEET1b</text>
<text transform="rotate(-73.09)" x="-1067" y="9.3">OsSWEET1a</text>
<text transform="rotate(-69.36)" x="-1067" y="9.3">SlSWEET1b</text>
<text transform="rotate(-65.64)" x="-1067" y="9.3">CaSWEET18</text>
<text transform="rotate(-61.91)" x="-1067" y="9.3">AtSWEET1a</text>
<text transform="rotate(-58.19)" x="-1067" y="9.3">SlSWEET1a</text>
<text transform="rotate(-54.47)" x="-1067" y="9.3">CaSWEET19</text>
<text transform="rotate(-50.74)" x="-1067" y="9.3">CaSWEET21</text>
<text transform="rotate(-47.02)" x="-1067" y="9.3">CaSWEET10</text>
<text transform="rotate(-43.30)" x="-1067" y="9.3">SlSWEET6a</text>
<text transform="rotate(-39.57)" x="-1067" y="9.3">AtSWEET7</text>
<text transform="rotate(-35.85)" x="-1067" y="9.3">SlSWEET7b</text>
<text transform="rotate(-32.13)" x="-1067" y="9.3">CaSWEET32</text>
<text transform="rotate(-28.40)" x="-1067" y="9.3">SlSWEET7a</text>
<text transform="rotate(-24.68)" x="-1067" y="9.3">CaSWEET7</text>
<text transform="rotate(-20.96)" x="-1067" y="9.3">AtSWEET5</text>
<text transform="rotate(-17.23)" x="-1067" y="9.3">SlSWEET5b</text>
<text transform="rotate(-13.51)" x="-1067" y="9.3">CaSWEET25</text>
<text transform="rotate(-9.79)" x="-1067" y="9.3">SlSWEET5a</text>
<text transform="rotate(-6.06)" x="-1067" y="9.3">CaSWEET11</text>
<text transform="rotate(-2.34)" x="-1067" y="9.3">OsSWEET4</text>
<text transform="rotate(1.38)" x="-1067" y="9.3">OsSWEET7b</text>
<text transform="rotate(5.11)" x="-1067" y="9.3">OsSWEET7c</text>
<text transform="rotate(8.83)" x="-1067" y="9.3">OsSWEET7a</text>
<text transform="rotate(12.55)" x="-1067" y="9.3">OsSWEET5</text>
<text transform="rotate(16.28)" x="-1067" y="9.3">OsSWEET6b</text>
<text transform="rotate(20.00)" x="-1067" y="9.3">OsSWEET6a</text>
</g>
<defs>
<path id="gp0" d="M163.7 847.8A1127.5 1127.5 0 0 1 811.5 148.9"/>
<path id="gp1" d="M916 112.2A1127.5 1127.5 0 0 1 1858.7 252.4"/>
<path id="gp2" d="M1973.1 339A1127.5 1127.5 0 0 1 2364.4 1208"/>
<path id="gp3" d="M2266.6 733.5A1127.5 1127.5 0 0 1 2250.8 1686.4"/>
<path id="gp4" d="M1874.6 2167.4A1164.5 1164.5 0 0 0 2393.3 1330.9"/>
<path id="gp5" d="M1437.2 2340.2A1164.5 1164.5 0 0 0 2244.5 1777"/>
<path id="gp6" d="M621.6 2181.6A1164.5 1164.5 0 0 0 1598.8 2299.9"/>
<path id="gp7" d="M87.5 1048.8A1158.5 1158.5 0 0 0 387.7 1980.9"/>
</defs>
<g id="grouplabels" class="gl">
<text><textPath href="#gp0" startOffset="50%">Group I</textPath></text>
<text><textPath href="#gp1" startOffset="50%">Group II</textPath></text>
<text><textPath href="#gp2" startOffset="50%">Group III</textPath></text>
<text><textPath href="#gp3" startOffset="50%">Group IV</textPath></text>
<text><textPath href="#gp4" startOffset="50%">Group V</textPath></text>
<text><textPath href="#gp5" startOffset="50%">Group VI</textPath></text>
<text><textPath href="#gp6" startOffset="50%">Group VII</textPath></text>
<text><textPath href="#gp7" startOffset="50%">Group VIII</textPath></text>
</g>
<g id="species" class="sp">
<circle cx="964.7" cy="1204.6" r="10" fill="#ff00e6"/>
<text x="986.7" y="1214.7">Arabidopsis thaliana</text>
<circle cx="964.7" cy="1261.4" r="10" fill="#4848ff"/>
<text x="986.7" y="1270.8">Solanum lycopersicum</text>
<circle cx="964.7" cy="1318" r="10" fill="#ff4a00"/>
<text x="986.7" y="1327.5">Oryza sativa</text>
<circle cx="964.7" cy="1372.3" r="10" fill="#7cfc00"/>
<text x="986.7" y="1383.3">Capsicum annuum</text>
</g>
<g id="legend" class="lg">
<rect x="22.5" y="49.5" width="217" height="493" fill="#fff" stroke="#333" stroke-width="3"/>
<text x="37.5" y="93.5">Bootstrap</text>
<line x1="30" y1="117.5" x2="232" y2="117.5" stroke="#222" stroke-width="1.2"/>
<circle cx="63.2" cy="164.4" r="3.5" fill="#d0d0f8" stroke="#8a8aa0" stroke-width="0.7"/>
<text x="120" y="176">154</text>
<circle cx="63.2" cy="247" r="5.4" fill="#d0d0f8" stroke="#8a8aa0" stroke-width="0.7"/>
<text x="120" y="258.8">365.5</text>
<circle cx="63.2" cy="329.4" r="7" fill="#d0d0f8" stroke="#8a8aa0" stroke-width="0.7"/>
<text x="120" y="341">577</text>
<circle cx="63.2" cy="411.8" r="8.6" fill="#d0d0f8" stroke="#8a8aa0" stroke-width="0.7"/>
<text x="120" y="423.5">788.5</text>
<circle cx="63.2" cy="494.4" r="10.3" fill="#d0d0f8" stroke="#8a8aa0" stroke-width="0.7"/>
<text x="120" y="506">1000</text>
</g>
</svg></body></html>
